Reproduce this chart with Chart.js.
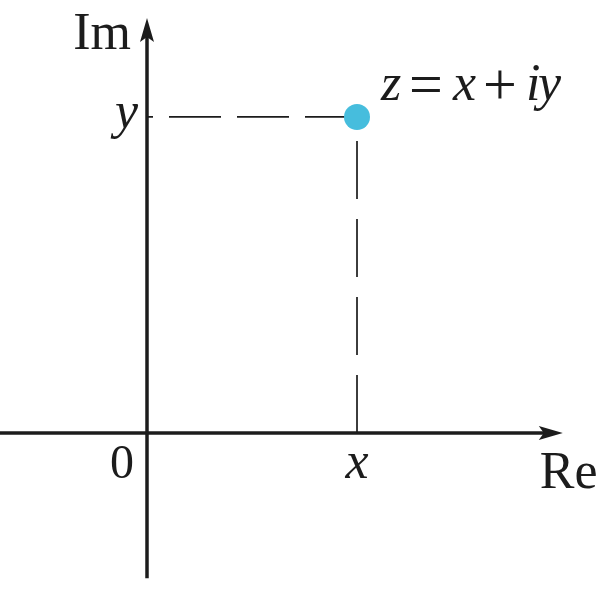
<!DOCTYPE html>
<html>
<head>
<meta charset="utf-8">
<script src="https://cdn.jsdelivr.net/npm/chart.js@4.4.1/dist/chart.umd.min.js"></script>
<style>
  html, body { margin: 0; padding: 0; background: #fff; }
  #wrap { width: 603px; height: 600px; position: relative; }
</style>
</head>
<body>
<div id="wrap"><canvas id="plane"></canvas></div>
<script>
// complex plane: z = x + iy, unit point at (1, 1)
const reRange = [-0.7, 2.1714];     // visible real range
const imRange = [-0.528, 1.370];    // visible imaginary range
const reAxis = [-0.7, 1.98];        // real axis extent (arrow at the end)
const imAxis = [-0.459, 1.313];     // imaginary axis extent (arrow at the top)
const zRe = [1];
const zIm = [1];
const axisNames = ['Re', 'Im'];
const tickLabels = ['0', 'x', 'y'];
const zLabel = ['z', '=', 'x', '+', 'i', 'y'];

const ink = '#1c1c1c';
const serif = '"Liberation Serif", "DejaVu Serif", serif';

const arrowsAndText = {
    id: 'arrowsAndText',
    afterDatasetsDraw(chart) {
        const c = chart.ctx;
        const xs = chart.scales.x, ys = chart.scales.y;
        const ox = xs.getPixelForValue(0), oy = ys.getPixelForValue(0);
        const px = xs.getPixelForValue(zRe[0]), py = ys.getPixelForValue(zIm[0]);
        const reTip = xs.getPixelForValue(reAxis[1]);
        const imTip = ys.getPixelForValue(imAxis[1]);

        c.save();
        c.fillStyle = ink;
        // arrow heads
        c.beginPath();
        c.moveTo(reTip, oy);
        c.lineTo(reTip - 24, oy - 7);
        c.lineTo(reTip - 19, oy);
        c.lineTo(reTip - 24, oy + 7);
        c.closePath();
        c.fill();
        c.beginPath();
        c.moveTo(ox, imTip);
        c.lineTo(ox - 7, imTip + 24);
        c.lineTo(ox, imTip + 19);
        c.lineTo(ox + 7, imTip + 24);
        c.closePath();
        c.fill();

        // axis names
        c.textBaseline = 'alphabetic';
        c.font = '52px ' + serif;
        c.textAlign = 'left';
        c.fillText(axisNames[0], reTip - 23, oy + 55);
        c.textAlign = 'right';
        c.fillText(axisNames[1], ox - 16, imTip + 31);

        // tick labels
        c.font = '48px ' + serif;
        c.fillText(tickLabels[0], ox - 13, oy + 45);
        c.textAlign = 'center';
        c.font = 'italic 52px ' + serif;
        c.fillText(tickLabels[1], px, oy + 45);
        c.textAlign = 'right';
        c.fillText(tickLabels[2], ox - 9, py + 11);

        // z = x + iy, each glyph placed by its left edge
        c.textAlign = 'left';
        const offsets = [24, 52, 96, 126, 169, 181];
        zLabel.forEach((part, i) => {
            const upright = part === '=' || part === '+';
            c.font = (upright ? '60px ' : 'italic 52px ') + serif;
            c.fillText(part, px + offsets[i], py - 17 + (upright ? 4 : 0));
        });
        c.restore();
    }
};

const ctx = document.getElementById('plane').getContext('2d');
const plane = new Chart(ctx, {
    type: 'scatter',
    data: {
        datasets: [
            {
                label: 'z',
                data: [{ x: zRe[0], y: zIm[0] }],
                backgroundColor: '#46bddd',
                borderWidth: 0,
                pointRadius: 13,
                pointHoverRadius: 13
            },
            {
                label: 'guide re',
                data: [{ x: zRe[0], y: zIm[0] }, { x: 0, y: zIm[0] }],
                showLine: true,
                borderColor: ink,
                borderWidth: 1.7,
                borderDash: [52, 16],
                pointRadius: 0
            },
            {
                label: 'guide im',
                data: [{ x: zRe[0], y: zIm[0] }, { x: zRe[0], y: 0 }],
                showLine: true,
                borderColor: ink,
                borderWidth: 1.7,
                borderDash: [58, 20],
                borderDashOffset: 54,
                pointRadius: 0
            },
            {
                label: 'real axis',
                data: [{ x: reAxis[0], y: 0 }, { x: reAxis[1] - 0.08, y: 0 }],
                showLine: true,
                borderColor: ink,
                borderWidth: 3.5,
                pointRadius: 0
            },
            {
                label: 'imaginary axis',
                data: [{ x: 0, y: imAxis[0] }, { x: 0, y: imAxis[1] - 0.06 }],
                showLine: true,
                borderColor: ink,
                borderWidth: 3.5,
                pointRadius: 0
            }
        ]
    },
    options: {
        responsive: true,
        maintainAspectRatio: false,
        animation: false,
        layout: { padding: 0, autoPadding: false },
        scales: {
            x: { type: 'linear', display: false, min: reRange[0], max: reRange[1] },
            y: { type: 'linear', display: false, min: imRange[0], max: imRange[1] }
        },
        plugins: {
            legend: { display: false },
            tooltip: { enabled: false }
        }
    },
    plugins: [arrowsAndText]
});
</script>
</body>
</html>
